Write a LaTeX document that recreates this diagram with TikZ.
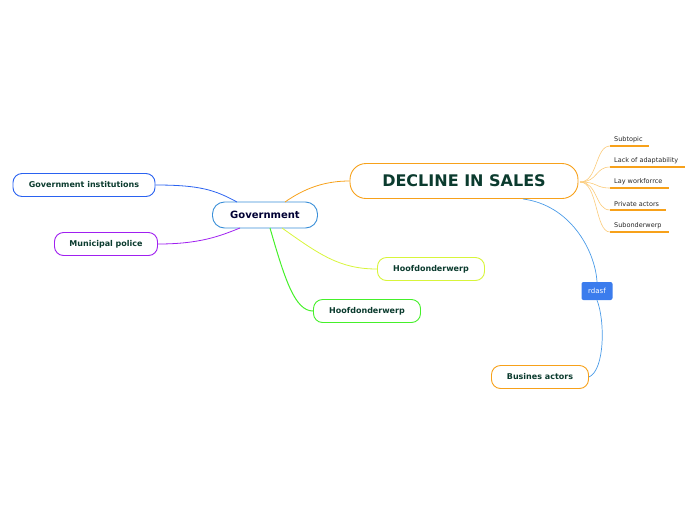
\documentclass[tikz,border=0pt]{standalone}
\usepackage{fontspec}
\setmainfont{DejaVu Sans}
\definecolor{txt}{HTML}{0B3B2E}
\definecolor{org}{HTML}{F7A11A}
\definecolor{lorg}{HTML}{FBCB7A}
\definecolor{blu}{HTML}{2A62F0}
\definecolor{lblu}{HTML}{4A9BE8}
\definecolor{pur}{HTML}{A020F0}
\definecolor{yel}{HTML}{D8F53A}
\definecolor{grn}{HTML}{45F02A}
\definecolor{gov}{HTML}{3A8FD8}
\tikzset{
 box/.style={draw,rounded corners=9pt,line width=0.9pt,fill=white,text=txt,font=\bfseries\fontsize{8}{9}\selectfont,inner sep=0pt},
 sub/.style={font=\fontsize{6.5}{7}\selectfont,text=black!85,anchor=south west,inner sep=1pt},
 ul/.style={org,line width=1.4pt},
}
\begin{document}
\begin{tikzpicture}[x=1pt,y=-1pt]
\useasboundingbox (0,0) rectangle (696,520);
\node[box,draw=org,minimum width=228pt,minimum height=35pt,rounded corners=16pt,font=\bfseries\fontsize{16}{18}\selectfont] (dec) at (464,181) {DECLINE IN SALES};
\node[box,draw=gov,minimum width=105pt,minimum height=26pt,rounded corners=12pt,font=\bfseries\fontsize{10}{12}\selectfont,text=black!80!blue] (gov) at (265,215) {Government};
\node[box,draw=blu,minimum width=142pt,minimum height=23pt] (gi) at (84,185) {Government institutions};
\node[box,draw=pur,minimum width=103pt,minimum height=23pt] (mp) at (106,244) {Municipal police};
\node[box,draw=yel,minimum width=107pt,minimum height=23pt] (h1) at (431,269) {Hoofdonderwerp};
\node[box,draw=grn,minimum width=107pt,minimum height=23pt] (h2) at (367,311) {Hoofdonderwerp};
\node[box,draw=org,minimum width=97pt,minimum height=23pt] (ba) at (540,377) {Busines actors};
\node[fill=lblu!80!blue,rounded corners=2pt,minimum width=31pt,minimum height=18pt,inner sep=0pt,text=white,font=\fontsize{7}{8}\selectfont] (rd) at (597,291) {rdasf};
% connectors
\coordinate (g1) at (285,202); \coordinate (g2) at (237,202); \coordinate (g3) at (240,228);
\coordinate (g4) at (282,228); \coordinate (g5) at (270,228); \coordinate (d1) at (523,199);
\draw[org,line width=0.8pt] (g1) .. controls (305,188) and (325,181) .. (dec.west);
\draw[blu,line width=0.8pt] (gi.east) .. controls (200,185) and (215,190) .. (g2);
\draw[pur,line width=0.8pt] (mp.east) .. controls (200,244) and (220,236) .. (g3);
\draw[yel,line width=0.8pt] (g4) .. controls (320,255) and (340,269) .. (h1.west);
\draw[grn,line width=1pt] (g5) .. controls (285,280) and (295,311) .. (h2.west);
\draw[lblu,line width=0.7pt] (d1) .. controls (570,205) and (595,250) .. (rd.north);
\draw[lblu,line width=0.7pt] (rd.south) .. controls (605,320) and (605,370) .. (ba.east);
% subtopics
\coordinate (dr) at (580,182);
\foreach \n/\y/\w/\t in {s1/146/39/Subtopic,s2/167/75/Lack of adaptability,s3/188/59/Lay workforrce,s4/210/56/Private actors,s5/232/59/Subonderwerp}{
 \coordinate (\n) at (610,\y);
 \draw[ul] (\n) -- ++(\w,0);
 \node[sub] (\n t) at (613,\y-2) {\t};
 \draw[lorg,line width=0.6pt] (dr) .. controls (598,182) and (595,\y) .. (\n);
}
\end{tikzpicture}
\end{document}
